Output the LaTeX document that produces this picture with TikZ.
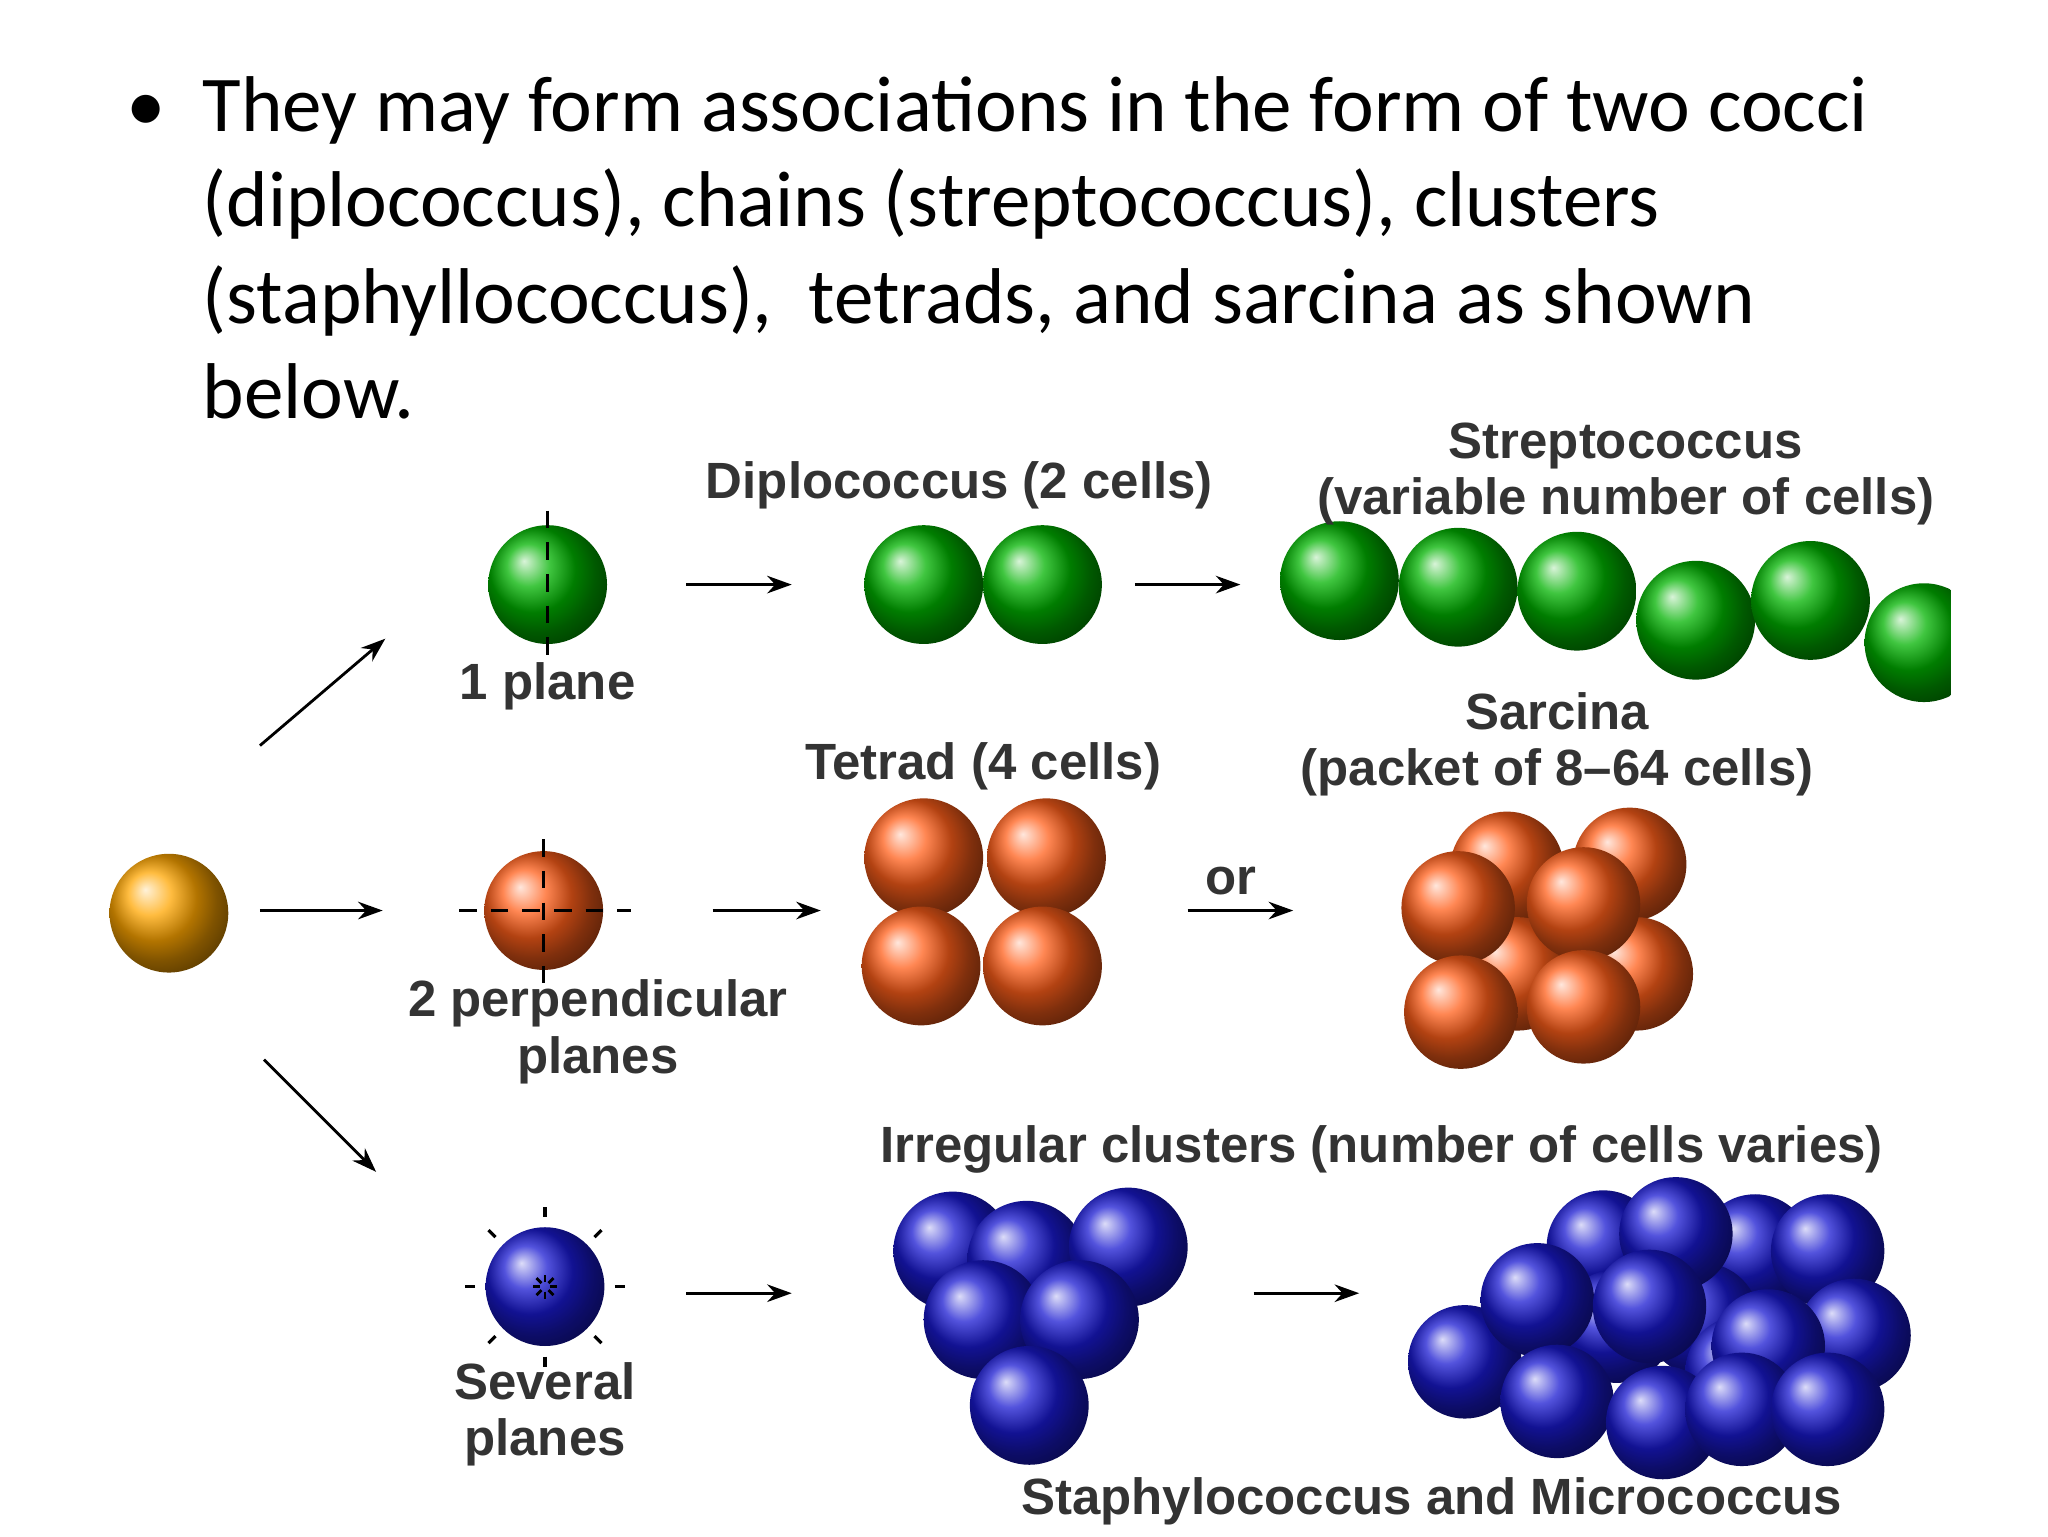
\documentclass[tikz,border=0pt]{standalone}
\usepackage{fontspec}
\setmainfont{Carlito}
\newfontfamily\lab{Liberation Sans}
\usetikzlibrary{arrows.meta,calc}
\begin{document}
\begin{tikzpicture}[x=0.013196cm,y=-0.013196cm,
  lbl/.style={font=\lab\bfseries\fontsize{14.5}{16}\selectfont,text=black!80,align=center,inner sep=0},
  txt/.style={font=\fontsize{22.5}{27}\selectfont,anchor=base west,inner sep=0},
  arr/.style={-{Stealth[length=7pt,width=5pt]},line width=0.8pt},
  guide/.style={line width=0.9pt,dash pattern=on 5pt off 4pt},
  gball/.style={shading=ball,ball color=green!70!black},
  oball/.style={shading=ball,ball color=orange!60!red!90!white},
  yball/.style={shading=ball,ball color=orange!70!yellow},
  bball/.style={shading=ball,ball color=blue!80!black!90!white}]
\useasboundingbox[fill=white] (0,0) rectangle (1552,1164);
% text
\node[txt] (b) at (95,100) {•};
\node[txt] (t1) at (153,100) {They may form associations in the form of two cocci};
\node[txt] (t2) at (153,172) {(diplococcus), chains (streptococcus), clusters};
\node[txt] (t3) at (153,245) {(staphyllococcus),\ \ tetrads, and sarcina as shown};
\node[txt] (t4) at (153,317) {below.};
% yellow
\shade[yball] (128,692) circle (45);
\node (y) at (128,692) {};
\coordinate (a1s) at (197,565); \coordinate (a1e) at (292,484);
\coordinate (a2s) at (197,690); \coordinate (a2e) at (290,690);
\coordinate (a3s) at (200,803); \coordinate (a3e) at (285,888);
\draw[arr] (a1s) -- (a1e); \draw[arr] (a2s) -- (a2e); \draw[arr] (a3s) -- (a3e);
% row 1
\shade[gball] (415,443) circle (45);
\draw[guide] (415,387) -- (415,497);
\node[lbl] (l1) at (415,520) {1 plane};
\coordinate (b1s) at (520,443); \coordinate (b1e) at (600,443);
\draw[arr] (b1s) -- (b1e);
\foreach \x in {700,790} \shade[gball] (\x,443) circle (45);
\node[lbl] (l2) at (727,368) {Diplococcus (2 cells)};
\coordinate (b2s) at (860,443); \coordinate (b2e) at (940,443);
\draw[arr] (b2s) -- (b2e);
\begin{scope}
\clip (900,380) rectangle (1478,540);
\foreach \x/\y in {1015/440,1105/445,1195/448,1285/470,1372/455,1458/487} \shade[gball] (\x,\y) circle (45);
\end{scope}
\node[lbl] (l3) at (1232,359) {Streptococcus\\(variable number of cells)};
% row 2
\shade[oball] (412,690) circle (45);
\draw[guide] (348,690) -- (478,690) (412,636) -- (412,745);
\node[lbl] (l4) at (453,782) {2 perpendicular\\planes};
\coordinate (c1s) at (540,690); \coordinate (c1e) at (622,690);
\draw[arr] (c1s) -- (c1e);
\foreach \x/\y in {700/650,793/650,698/732,790/732} \shade[oball] (\x,\y) circle (45);
\node[lbl] (l5) at (745,581) {Tetrad (4 cells)};
\node[lbl] (or) at (933,668) {or};
\coordinate (c2s) at (900,690); \coordinate (c2e) at (980,690);
\draw[arr] (c2s) -- (c2e);
\foreach \x/\y in {1142/658,1235/655,1240/738,1150/738} \shade[oball] (\x,\y) circle (43);
\foreach \x/\y in {1105/688,1200/685,1107/767,1200/763} \shade[oball] (\x,\y) circle (43);
\node[lbl] (l6) at (1180,564) {Sarcina\\(packet of 8–64 cells)};
% row 3
\shade[bball] (413,975) circle (45);
\coordinate (bc) at (413,975);
\foreach \a in {0,45,...,315} \draw[line width=0.9pt] ($(bc)+(\a:0.70cm)$) -- ($(bc)+(\a:0.80cm)$);
\foreach \a in {0,45,...,315} \draw[line width=0.8pt] ($(bc)+(\a:0.05cm)$) -- ($(bc)+(\a:0.12cm)$);
\node[lbl] (l7) at (413,1072) {Several\\planes};
\coordinate (d1s) at (520,980); \coordinate (d1e) at (600,980);
\draw[arr] (d1s) -- (d1e);
\foreach \x/\y in {722/948,778/955,855/945,745/1000,818/1000,780/1065} \shade[bball] (\x,\y) circle (45);
\node[lbl] (l8) at (1047,871) {Irregular clusters (number of cells varies)};
\coordinate (d2s) at (950,980); \coordinate (d2e) at (1030,980);
\draw[arr] (d2s) -- (d2e);
\foreach \x/\y in {1215/945,1330/948,1385/948,1405/1012,1290/1000,1225/1005,1320/1040} \shade[bball] (\x,\y) circle (43);
\foreach \x/\y in {1270/935,1110/1032,1165/985,1250/990,1340/1020,1180/1062,1260/1078,1320/1068,1385/1068} \shade[bball] (\x,\y) circle (43);
\node[lbl] (l9) at (1085,1138) {Staphylococcus and Micrococcus};
\end{tikzpicture}
\end{document}
